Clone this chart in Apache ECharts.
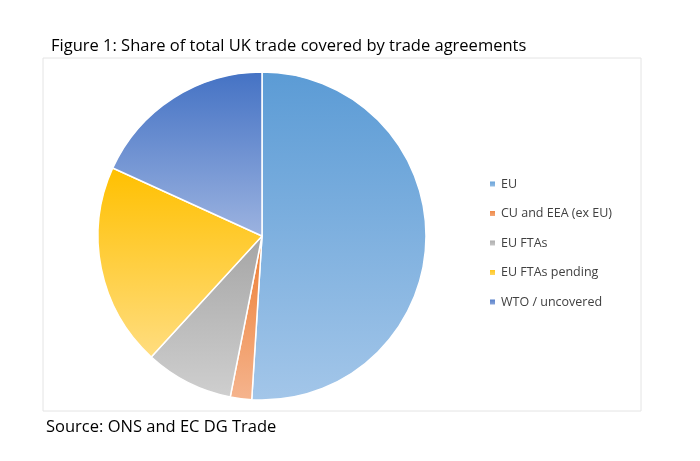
<!DOCTYPE html>
<html><head><meta charset="utf-8">
<script src="https://cdn.jsdelivr.net/npm/echarts@6/dist/echarts.min.js"></script>
<style>body{margin:0;background:#fff}#c{width:700px;height:461px}</style>
</head><body><div id="c"></div>
<script>
const categories = ['EU','CU and EEA (ex EU)','EU FTAs','EU FTAs pending','WTO / uncovered'];
const values = [51.0, 2.1, 8.7, 20.0, 18.2];
const topColors = ['#5b9bd5','#ed7d31','#a5a5a5','#ffc000','#4472c4'];
const botColors = ['#a3c6e9','#f5b48e','#cfcfcf','#ffdd80','#9cb3e0'];
const chart = echarts.init(document.getElementById('c'));
const grad = i => ({type:'linear',x:0,y:0,x2:0,y2:1,colorStops:[{offset:0,color:topColors[i]},{offset:1,color:botColors[i]}]});
chart.setOption({
  animation:false,
  title:{text:'Figure 1: Share of total UK trade covered by trade agreements',left:46,top:33,
    textStyle:{fontFamily:'Open Sans',fontSize:16.5,fontWeight:'normal',color:'#000'}},
  graphic:[
    {type:'rect',shape:{x:43,y:58,width:598,height:353},style:{fill:'none',stroke:'#e4e4e4',lineWidth:1}},
    {type:'text',left:46,top:419,style:{text:'Source: ONS and EC DG Trade',font:'16.5px "Open Sans"',fill:'#000'}}
  ],
  legend:{orient:'vertical',left:483,top:171,itemWidth:7,itemHeight:7,itemGap:13.5,icon:'rect',
    textStyle:{fontFamily:'Open Sans',fontSize:12.5,color:'#404040',lineHeight:16,height:16},data:categories},
  series:[{type:'pie',center:[262,236],radius:164,startAngle:90,clockwise:true,label:{show:false},
    itemStyle:{borderColor:'#fff',borderWidth:1.5},
    data:categories.map((n,i)=>({name:n,value:values[i],itemStyle:{color:grad(i)}}))}]
});
</script></body></html>
